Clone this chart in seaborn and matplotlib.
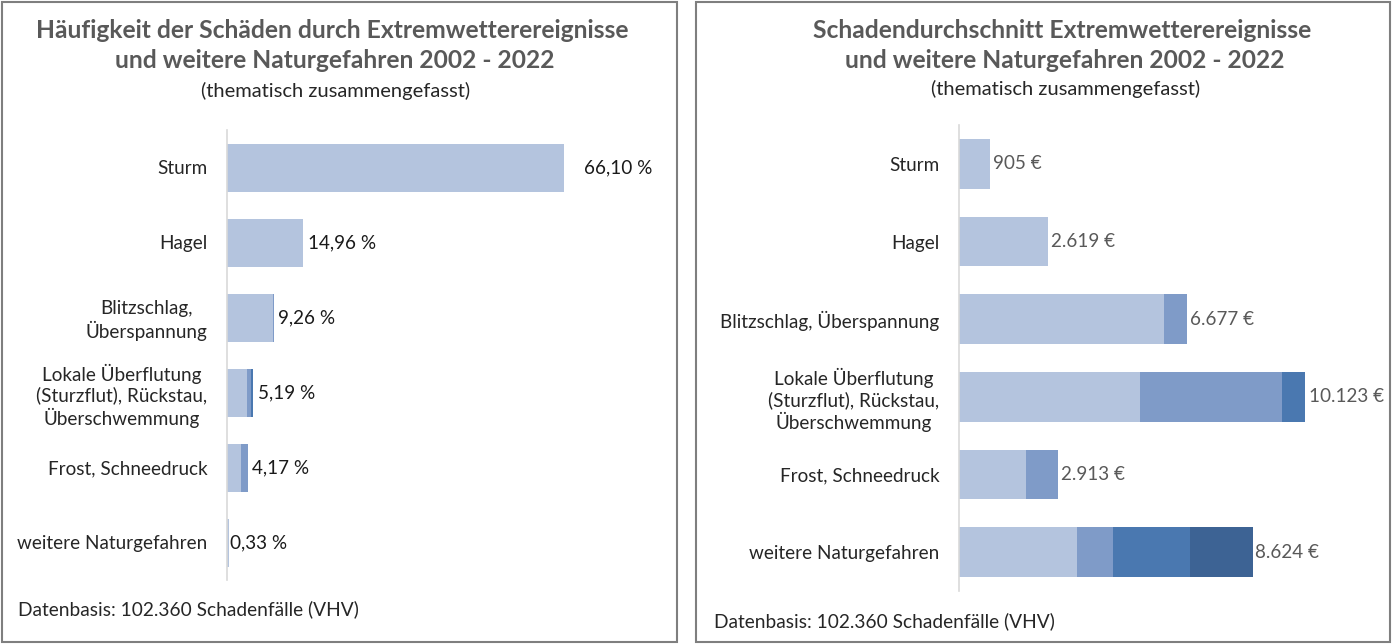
import numpy as np
import pandas as pd
import matplotlib.pyplot as plt
import seaborn as sns
from matplotlib.patches import Rectangle

# categories
cats_left = ['Sturm', 'Hagel', 'Blitzschlag,\nÜberspannung',
             'Lokale Überflutung\n(Sturzflut), Rückstau,\nÜberschwemmung',
             'Frost, Schneedruck', 'weitere Naturgefahren']
cats_right = ['Sturm', 'Hagel', 'Blitzschlag, Überspannung',
              'Lokale Überflutung\n(Sturzflut), Rückstau,\nÜberschwemmung',
              'Frost, Schneedruck', 'weitere Naturgefahren']

# frequency in %, stacked segments (light -> dark)
freq_seg1 = [66.10, 14.96, 8.96, 3.93, 2.72, 0.33]
freq_seg2 = [0.0, 0.0, 0.30, 0.76, 1.45, 0.0]
freq_seg3 = [0.0, 0.0, 0.0, 0.50, 0.0, 0.0]
freq_seg4 = [0.0, 0.0, 0.0, 0.0, 0.0, 0.0]
freq_labels = ['66,10 %', '14,96 %', '9,26 %', '5,19 %', '4,17 %', '0,33 %']

# average damage in EUR, stacked segments
avg_seg1 = [905, 2619, 6012, 5300, 1974, 3460]
avg_seg2 = [0, 0, 665, 4172, 939, 1065]
avg_seg3 = [0, 0, 0, 651, 0, 2229]
avg_seg4 = [0, 0, 0, 0, 0, 1870]
avg_labels = ['905 €', '2.619 €', '6.677 €', '10.123 €', '2.913 €', '8.624 €']

colors = ['#b4c4de', '#7f9bc8', '#4a78b0', '#3d6394']

W, H = 1392, 644
sns.set_theme(style='white')
plt.rcParams['font.family'] = ['Lato', 'DejaVu Sans']

fig = plt.figure(figsize=(W / 100, H / 100), dpi=100)


def px(x, y):
    return x / W, 1 - y / H


def add_axes(x0, y0, x1, y1):
    return fig.add_axes([x0 / W, 1 - y1 / H, (x1 - x0) / W, (y1 - y0) / H])


# panel frames
for x0, x1 in [(2, 677), (696, 1390)]:
    fig.patches.append(Rectangle((x0 / W, 2 / H), (x1 - x0) / W, (H - 4) / H,
                                 transform=fig.transFigure, fill=False,
                                 edgecolor='#7f7f7f', linewidth=1.5))


def stacked(ax, cats, segs, labels, xmax, lab_color, offsets):
    cum = np.cumsum(np.array(segs), axis=0)
    # draw the largest cumulative first so lighter parts sit on top
    for i in range(len(segs) - 1, -1, -1):
        df = pd.DataFrame({'cat': cats, 'val': cum[i]})
        sns.barplot(data=df, x='val', y='cat', orient='h', color=colors[i],
                    saturation=1, width=0.64, ax=ax, linewidth=0)
    totals = cum[-1]
    for j, t in enumerate(totals):
        ax.annotate(labels[j], (t, j), xytext=(offsets[j], 0),
                    textcoords='offset points', va='center', ha='left',
                    fontsize=13.6, color=lab_color)
    ax.set_xlim(0, xmax)
    ax.set_ylim(len(cats) - 0.5, -0.5)
    ax.set_xlabel('')
    ax.set_ylabel('')
    ax.set_xticks([])
    for s in ['top', 'right', 'bottom']:
        ax.spines[s].set_visible(False)
    ax.spines['left'].set_color('#d9d9d9')
    ax.spines['left'].set_linewidth(1.2)
    ax.tick_params(axis='y', length=0, pad=14, labelsize=13.6,
                   labelcolor='#262626')
    for t in ax.get_yticklabels():
        t.set_multialignment('center')
    ax.patch.set_alpha(0)


ax1 = add_axes(227, 130, 620, 580)
stacked(ax1, cats_left, [freq_seg1, freq_seg2, freq_seg3, freq_seg4],
        freq_labels, 77, '#1a1a1a', [14, 3, 3, 3, 3, 1])

ax2 = add_axes(959, 125, 1372, 591)
stacked(ax2, cats_right, [avg_seg1, avg_seg2, avg_seg3, avg_seg4],
        avg_labels, 12100, '#595959', [2, 2, 2, 3, 2, 1])

# titles
title_kw = dict(ha='center', va='center', fontsize=17.7, fontweight='bold',
                color='#595959')
fig.text(*px(332, 30), 'Häufigkeit der Schäden durch Extremwetterereignisse', **title_kw)
fig.text(*px(335, 61), 'und weitere Naturgefahren 2002 - 2022', **title_kw)
fig.text(*px(336, 91), '(thematisch zusammengefasst)', ha='center', va='center',
         fontsize=14.5, color='#262626')

fig.text(*px(1062, 30), 'Schadendurchschnitt Extremwetterereignisse', **title_kw)
fig.text(*px(1065, 61), 'und weitere Naturgefahren 2002 - 2022', **title_kw)
fig.text(*px(1066, 89), '(thematisch zusammengefasst)', ha='center', va='center',
         fontsize=14.5, color='#262626')

# footnotes
fig.text(*px(18, 609), 'Datenbasis: 102.360 Schadenfälle (VHV)', ha='left',
         va='center', fontsize=13.8, color='#262626')
fig.text(*px(714, 621), 'Datenbasis: 102.360 Schadenfälle (VHV)', ha='left',
         va='center', fontsize=13.8, color='#262626')

fig.savefig('out.png', dpi=100)
